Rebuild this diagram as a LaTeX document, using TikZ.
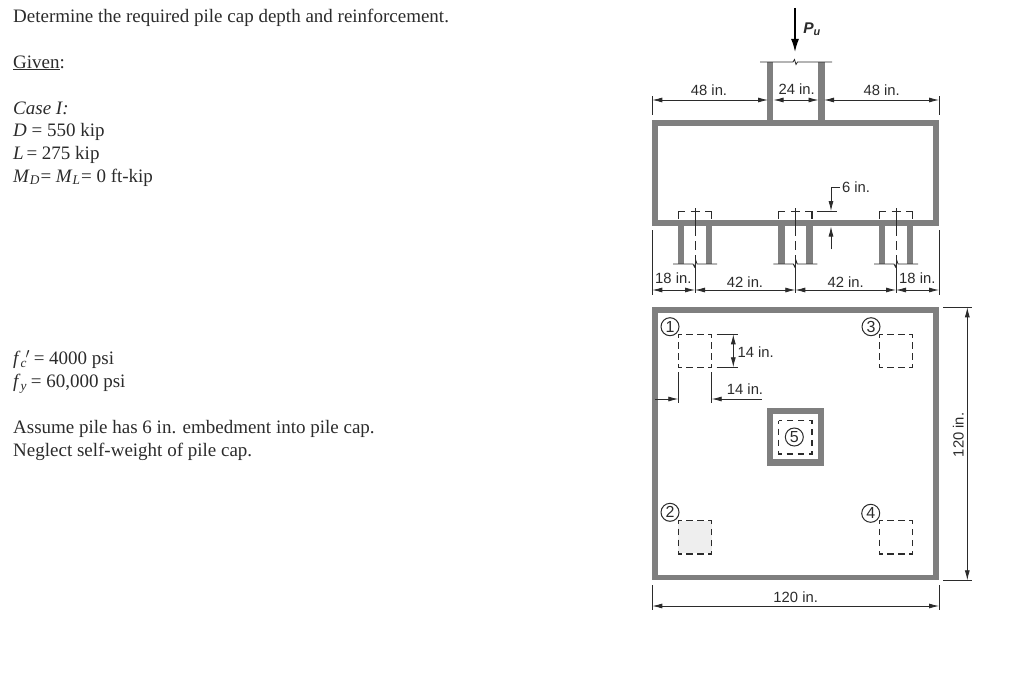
\documentclass[tikz,border=0pt]{standalone}
\usepackage{fontspec}
\setmainfont{Liberation Serif}
\setsansfont{Liberation Sans}
\usetikzlibrary{arrows.meta}
\usetikzlibrary{positioning}
\definecolor{wallgray}{HTML}{7F7F7F}
\definecolor{inkgray}{HTML}{2B2B2B}
\definecolor{patchgray}{HTML}{EEEEEE}
\newcommand{\subit}[1]{\textsubscript{\textit{#1}}}
\tikzset{
  given/.style={anchor=base west, inner sep=0pt, text=inkgray, font=\fontsize{19}{21}\selectfont},
  dimtext/.style={inner sep=0pt, text=inkgray, font=\sffamily\fontsize{14.8}{16}\selectfont},
  wall/.style={draw=wallgray, line width=5.8pt},
  thinline/.style={draw=inkgray, line width=0.8pt},
  dimtip/.style={>={Latex[length=10pt,width=5pt]}},
  dimline/.style={thinline, dimtip, <->},
  hidden/.style={draw=inkgray, line width=1.4pt, dash pattern=on 6.5pt off 4.63pt, dash phase=3.25pt},
  embedline/.style={draw=inkgray, line width=1.4pt},
  pilenum/.style={circle, draw=inkgray, line width=1pt, inner sep=0pt, minimum size=18pt, text=inkgray, font=\sffamily\fontsize{16}{18}\selectfont},
}
\begin{document}
\begin{tikzpicture}[x=1pt, y=-1pt]
    \useasboundingbox (0,0) rectangle (1024,693);
    \node[given] (title) at (13,23) {Determine the required pile cap depth and reinforcement.};
    \node[given] (given) at (13,68) {\underline{Given}:};
    \node[given] (case) at (13,114) {\textit{Case I:}};
    \node[given] (dead) at (13,136.7) {\textit{D} = 550 kip};
    \node[given] (live) at (13,159.4) {\textit{L}\kern-2pt\ = 275 kip};
    \node[given] (moment) at (13,182) {\textit{M}\subit{D}\kern0.5pt= \textit{M}\subit{L}\kern0.5pt= 0 ft-kip};
    \node[given] (fc) at (13,364.5) {\textit{f}\subit{c}\kern-1.5pt$'$\kern-1pt\ = 4000 psi};
    \node[given] (fy) at (13,387.5) {\textit{f}\subit{y}\kern-1pt\ = 60,000 psi};
    \node[given] (embed) at (13,433) {Assume pile has 6 in. embedment into pile cap.};
    \node[given] (self) at (13,456) {Neglect self-weight of pile cap.};

    \draw[wall] (655.2,122.9) rectangle (936.1,222.8);
    \draw[wall, line width=6.6pt] (770,62) -- (770,120);
    \draw[wall, line width=6.6pt] (821.7,62) -- (821.7,120);
    \draw[thinline] (760,62) -- (793,62) -- (794.5,59.5) -- (796,64.5) -- (797.5,62) -- (832,62);
    \draw[draw=black, line width=1.6pt, -{Latex[length=13pt,width=8pt]}] (795,8) -- (795,52);
    \node[dimtext, font=\sffamily\bfseries\itshape\fontsize{15.5}{16}\selectfont] (load) at (812,29) {P\textsubscript{u}};

    \foreach \cx/\name in {695/a, 795.3/b, 896/c}{
      \draw[wall, line width=6.6pt] (\cx-14,225) -- (\cx-14,264);
      \draw[wall, line width=6.6pt] (\cx+14,225) -- (\cx+14,264);
      \draw[thinline] (\cx-22,264) -- (\cx-2,264) -- (\cx-0.5,267) -- (\cx+1,261) -- (\cx+2,264) -- (\cx+22,264);
      \draw[embedline] (\cx-16.7,219) -- (\cx-16.7,211.7) -- (\cx-10,211.7);
      \draw[embedline] (\cx-4.5,211.7) -- (\cx+4.5,211.7);
      \draw[embedline] (\cx+10,211.7) -- (\cx+16.7,211.7) -- (\cx+16.7,219);
      \draw[thinline, dash pattern=on 28pt off 5pt on 9pt off 5pt on 50pt] (\cx,208) -- (\cx,293);
      \coordinate (pile\name) at (\cx,290);
    }

    \coordinate (capl) at (652.3,100);
    \coordinate (colw) at (768,100);
    \coordinate (cole) at (824,100);
    \coordinate (capr) at (939,100);
    \draw[thinline] (652.3,96) -- (652.3,115);
    \draw[thinline] (939,96) -- (939,115);
    \draw[dimline] (capl) -- (colw);
    \draw[dimline] (773.5,100) -- (818.5,100);
    \draw[dimline] (cole) -- (capr);
    \node[dimtext] (dima) at (709,90.5) {48 in.};
    \node[dimtext] (dimb) at (796.7,89) {24 in.};
    \node[dimtext] (dimc) at (881.7,90.5) {48 in.};

    \coordinate (basel) at (652.3,290);
    \coordinate (baser) at (939,290);
    \draw[thinline] (652.3,230) -- (652.3,295);
    \draw[thinline] (939,230) -- (939,295);
    \draw[dimline] (basel) -- (pilea);
    \draw[dimline] (pilea) -- (pileb);
    \draw[dimline] (pileb) -- (pilec);
    \draw[dimline] (pilec) -- (baser);
    \node[dimtext] (dimd) at (673.3,278) {18 in.};
    \node[dimtext] (dime) at (745,281.7) {42 in.};
    \node[dimtext] (dimf) at (845.7,281.7) {42 in.};
    \node[dimtext] (dimg) at (917.3,278) {18 in.};

    \node[dimtext] (embedin) at (856,187.5) {6 in.};
    \coordinate (embedtop) at (831,211);
    \coordinate (embedbot) at (831,226.5);
    \draw[thinline] (816.7,211) -- (836.7,211);
    \draw[thinline, dimtip, ->] (embedin.west) ++(-2,0) -| (embedtop);
    \draw[thinline, dimtip, ->] (831,249.3) -- (embedbot);

    \draw[wall] (655.2,310.2) rectangle (936.1,577.4);
    \draw[wall, line width=6.4pt] (769.9,410.9) rectangle (821.1,462.5);
    \fill[patchgray] (678.3,520.7) rectangle (711.7,553.3);
    \foreach \sx/\sy/\name in {678.3/334.3/one, 879.3/334.3/three, 678.3/520.7/two, 879.3/520.7/four, 778.7/420.7/five}{
      \draw[hidden] (\sx,\sy) rectangle ++(33.4,33.4);
      \coordinate (pile\name) at (\sx,\sy);
    }
    \node[pilenum] (numa) at (670,326.7) {1};
    \node[pilenum] (numb) at (670,512.3) {2};
    \node[pilenum] (numc) at (871,326.7) {3};
    \node[pilenum] (numd) at (870.7,513.3) {4};
    \node[pilenum] (nume) at (794.3,437) {5};

    \draw[thinline] (716.7,334.3) -- (738,334.3);
    \draw[thinline] (716.7,367.3) -- (738,367.3);
    \draw[dimline] (733.3,334.3) -- (733.3,367.3);
    \node[dimtext] (pilev) at (755.7,351.7) {14 in.};

    \draw[thinline] (678.3,372.3) -- (678.3,403.3);
    \draw[thinline] (711.7,372.3) -- (711.7,403.3);
    \coordinate (pilehl) at (678.3,399);
    \coordinate (pilehr) at (711.7,399);
    \draw[thinline, dimtip, ->] (655,399) -- (pilehl);
    \draw[thinline, dimtip, ->] (761.7,399) -- (pilehr);
    \node[dimtext] (pileh) at (745,389.3) {14 in.};

    \draw[thinline] (943.3,307.3) -- (971.7,307.3);
    \draw[thinline] (943.3,580.3) -- (971.7,580.3);
    \coordinate (sidet) at (967.3,307.3);
    \coordinate (sideb) at (967.3,580.3);
    \draw[dimline] (sidet) -- (sideb);
    \node[dimtext, rotate=90] (side) at (958.3,435) {120 in.};

    \draw[thinline] (652.3,585) -- (652.3,610);
    \draw[thinline] (939,585) -- (939,610);
    \coordinate (botl) at (652.3,606);
    \coordinate (botr) at (939,606);
    \draw[dimline] (botl) -- (botr);
    \node[dimtext] (bot) at (795.7,597.3) {120 in.};
\end{tikzpicture}
\end{document}
